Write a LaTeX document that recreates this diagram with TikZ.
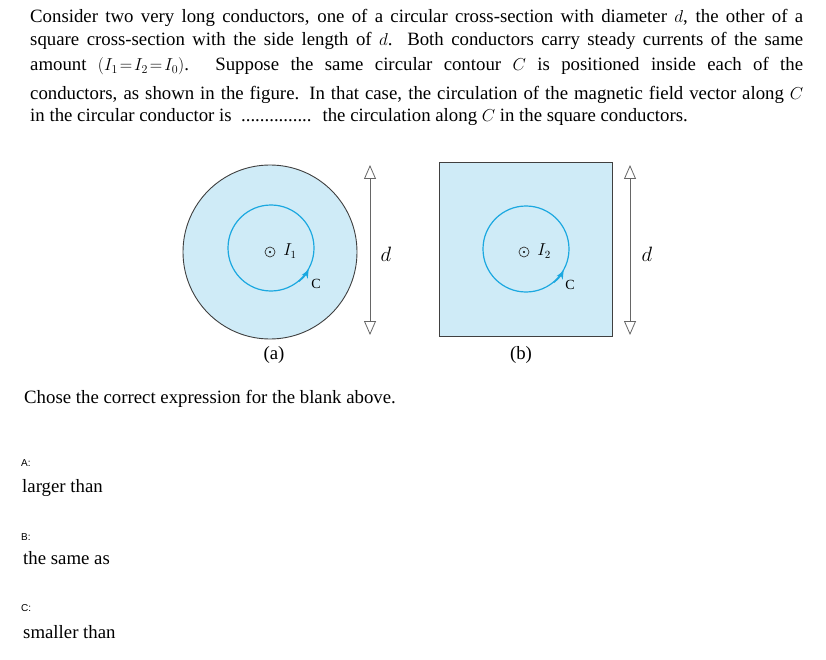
\documentclass[tikz,border=0pt]{standalone}
\usepackage{fontspec}
\setmainfont{Liberation Serif}
\setsansfont{Liberation Sans}
\usetikzlibrary{arrows.meta}
\definecolor{fillb}{HTML}{CFEBF7}
\definecolor{loopb}{HTML}{1BA8E0}
\tikzset{txt/.style={anchor=west,inner sep=0pt,font=\fontsize{18.8}{20}\selectfont},
opt/.style={anchor=west,inner sep=0pt,font=\sffamily\fontsize{10}{10}\selectfont},
dim/.style={gray!80!black,line width=0.8pt,{Triangle[open,length=14pt,width=12pt]}-{Triangle[open,length=14pt,width=12pt]}},
loop/.style={loopb,line width=1.2pt}}
\newcommand{\jl}[1]{\makebox[773pt][s]{#1}}
\newcommand{\mm}[1]{\mbox{$#1$}}
\begin{document}
\begin{tikzpicture}[x=1pt,y=-1pt]
\useasboundingbox (0,0) rectangle (826,660);
\node[txt] (l1) at (30,18) {\jl{Consider two very long conductors, one of a circular cross-section with diameter \mm{d}, the other of a}};
\node[txt] (l2) at (30,41) {\jl{square cross-section with the side length of \mm{d}. Both conductors carry steady currents of the same}};
\node[txt] (l3) at (30,66) {\jl{amount \mm{(I_1\!=\!I_2\!=\!I_0)}. Suppose the same circular contour \mm{C} is positioned inside each of the}};
\node[txt] (l4) at (30,95) {\jl{conductors, as shown in the figure. In that case, the circulation of the magnetic field vector along \mm{C}}};
\node[txt] (l5) at (30,117) {in the circular conductor is \ ............... \ the circulation along \mm{C} in the square conductors.};
% figure a
\node[circle,draw=black!75,line width=0.9pt,fill=fillb,minimum size=174pt,inner sep=0pt] (ca) at (270,252) {};
\node[circle,draw=loopb,line width=1.2pt,minimum size=86pt,inner sep=0pt] (la) at (271,248) {};
\draw[loop,-{Stealth[length=8pt,width=7pt]}] (la.-50) arc (50:30:43);
\node[circle,draw=black!80,minimum size=10pt,inner sep=0pt,line width=0.7pt] (da) at (270,252) {};
\fill (da) circle (1.2pt);
\node[font=\fontsize{16}{16}\selectfont,inner sep=0pt] (ia) at (290,251) {$I_1$};
\node[font=\fontsize{14}{14}\selectfont,inner sep=0pt] (cla) at (316,284) {C};
\coordinate (a1) at (370,165); \coordinate (a2) at (370,335);
\draw[dim] (a1) -- (a2);
\node[font=\fontsize{20}{20}\selectfont,inner sep=0pt] (da1) at (386,254) {$d$};
\node[txt,anchor=center] (cap) at (274,355) {(a)};
% figure b
\node[draw=black!75,line width=0.9pt,fill=fillb,minimum width=173pt,minimum height=174pt,inner sep=0pt] (sq) at (525.5,249) {};
\node[circle,draw=loopb,line width=1.2pt,minimum size=86pt,inner sep=0pt] (lb) at (526,249) {};
\draw[loop,-{Stealth[length=8pt,width=7pt]}] (lb.-50) arc (50:30:43);
\node[circle,draw=black!80,minimum size=10pt,inner sep=0pt,line width=0.7pt] (db) at (524,252) {};
\fill (db) circle (1.2pt);
\node[font=\fontsize{16}{16}\selectfont,inner sep=0pt] (ib) at (544,251) {$I_2$};
\node[font=\fontsize{14}{14}\selectfont,inner sep=0pt] (clb) at (570,285) {C};
\coordinate (b1) at (630,165); \coordinate (b2) at (630,335);
\draw[dim] (b1) -- (b2);
\node[font=\fontsize{20}{20}\selectfont,inner sep=0pt] (db1) at (647,254) {$d$};
\node[txt,anchor=center] (capb) at (521,355) {(b)};
% question
\node[txt] (q) at (24,399) {Chose the correct expression for the blank above.};
\node[opt] (oa) at (21,463) {A:};
\node[txt] (ta) at (22,488) {larger than};
\node[opt] (ob) at (21,537) {B:};
\node[txt] (tb) at (23,558) {the same as};
\node[opt] (oc) at (21,608) {C:};
\node[txt] (tc) at (23,632) {smaller than};
\end{tikzpicture}
\end{document}
